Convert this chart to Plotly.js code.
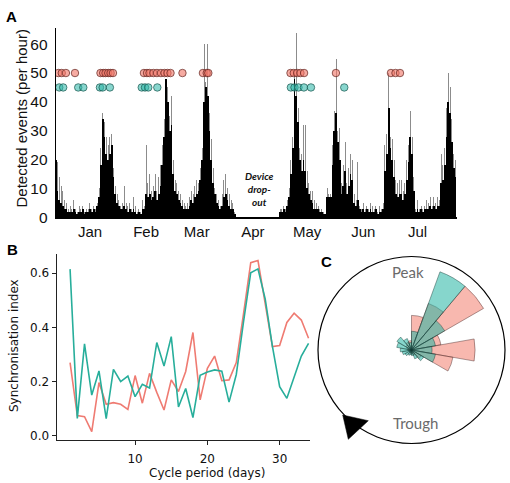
<!DOCTYPE html>
<html>
<head>
<meta charset="utf-8">
<script src="https://cdn.plot.ly/plotly-3.0.1.min.js"></script>
<style>html,body{margin:0;padding:0;background:#fff}#chart{width:510px;height:483px}</style>
</head>
<body>
<div id="chart"></div>
<script>
// ---------- Panel A: detected events per hour (daily summary), first day 2018-12-13 ----------
const recordStart = '2018-12-13';
const peakEvents = [
  21,19,14,11,9,6,5,3,4,3,
  6,3,2,4,3,4,2,3,3,5,
  3,4,3,5,10,24,36,33,28,25,
  28,29,17,11,8,6,4,5,11,5,
  4,5,3,7,4,2,3,2,6,4,
  25,12,15,9,11,15,9,14,18,25,
  34,59,45,35,42,20,13,12,9,8,
  6,5,4,5,7,9,8,11,13,12,
  17,24,60,47,60,36,27,17,10,8,
  6,4,8,13,15,10,8,6,5,2,
  null,null,null,null,null,null,null,null,null,null,null,null,
  null,null,null,null,null,null,null,null,null,null,null,null,
  3,3,4,3,6,10,20,28,50,64,
  38,24,22,32,32,16,12,9,9,6,
  5,4,3,3,2,1,10,8,8,25,
  37,55,30,31,12,18,26,12,17,22,
  20,8,6,19,4,3,5,3,4,3,
  5,4,3,4,2,4,3,5,25,29,
  50,28,27,20,13,12,13,13,9,12,
  20,25,37,28,14,3,6,3,4,3,
  4,6,5,7,4,7,5,7,6,22,
  18,24,38,50,45,34,22,20
];
const typicalEvents = [
  20,9,6,5,4,3,3,2,2,2,
  3,2,1,2,2,3,1,2,2,3,
  2,3,2,4,7,18,34,28,22,20,
  22,25,14,8,5,4,3,3,4,3,
  2,3,2,3,2,1,2,1,3,3,
  8,7,8,6,7,9,6,8,11,18,
  28,48,40,30,32,15,9,8,6,5,
  4,3,3,3,4,6,5,7,8,9,
  13,20,40,45,42,30,20,12,8,5,
  4,3,4,7,8,6,4,3,3,1,
  null,null,null,null,null,null,null,null,null,null,null,null,
  null,null,null,null,null,null,null,null,null,null,null,null,
  2,2,3,2,4,7,15,24,48,42,
  33,20,16,20,16,10,8,6,5,3,
  3,3,2,2,1,1,7,7,7,18,
  30,36,26,20,8,11,16,8,11,15,
  13,5,4,6,3,2,3,2,3,2,
  3,2,2,3,1,2,2,3,16,22,
  38,24,20,14,8,7,8,8,6,8,
  13,19,28,22,9,2,3,2,3,2,
  3,3,3,4,3,4,3,4,4,12,
  13,18,28,40,36,26,17,14
];
// event markers: days after 1 Jan 2019
const redEventDays = [-17.5,-15.6,-13.3,-8.3,5.8,7.3,8.6,10.1,11.4,12.7,29.8,31.5,32.9,35,37,39.2,41.2,42.8,44.5,51.1,62.4,64.5,65.4,110.8,112.6,114.5,116.3,118.3,135.9,166.3,168.8,171.3];
const tealEventDays = [-17,-14.8,-6.5,-3.7,5.5,7,11,28.6,30.4,32.2,37.2,111,113,115.2,118.2,122.1,140.5];
const redEventLevel = 50;
const tealEventLevel = 45;
const monthTicks = ['2019-01-01','2019-02-01','2019-03-01','2019-04-01','2019-05-01','2019-06-01','2019-07-01'];
const monthLabels = ['Jan','Feb','Mar','Apr','May','Jun','Jul'];

// ---------- Panel B: synchronisation index ----------
const cyclePeriod = [1,2,3,4,5,6,7,8,9,10,11,12,13,14,15,16,17,18,19,20,21,22,23,24,25,26,27,28,29,30,31,32,33,34];
const syncTeal = [0.615,0.064,0.339,0.15,0.239,0.063,0.245,0.2,0.22,0.144,0.19,0.176,0.344,0.257,0.366,0.106,0.174,0.067,0.223,0.235,0.243,0.238,0.124,0.226,0.42,0.602,0.616,0.505,0.33,0.181,0.138,0.212,0.294,0.341];
const syncRed = [0.27,0.074,0.07,0.015,0.196,0.116,0.122,0.116,0.097,0.222,0.12,0.23,0.16,0.095,0.206,0.163,0.237,0.381,0.132,0.249,0.294,0.203,0.206,0.27,0.45,0.639,0.647,0.49,0.329,0.333,0.418,0.452,0.427,0.36];

// ---------- Panel C: phase rose ----------
const phaseBins = [10,30,50,70,90,110,130,150,170,190,210,230,250,270,290,310,330,350];
const roseRed = [0.37,0.53,0.89,0.32,0.68,0.45,0.12,0.06,0.04,0.03,0.03,0.03,0.03,0.04,0.05,0.07,0.09,0.1];
const roseTeal = [0.2,0.89,0.41,0.26,0.22,0.26,0.15,0.1,0.06,0.05,0.06,0.08,0.1,0.12,0.16,0.18,0.13,0.08];

// ---------- helpers ----------
const W = 510, H = 483;
const px = x => x / W;
const py = y => 1 - y / H;
function fmt(ms){ return new Date(ms).toISOString().slice(0,19).replace('T',' '); }
const DAY = 86400000;
const startMs = Date.parse(recordStart + 'T00:00:00Z');
const jan1 = Date.UTC(2019,0,1);
const dayDates = peakEvents.map((_, i) => fmt(startMs + i * DAY));
const redDates = redEventDays.map(d => fmt(jan1 + d * DAY));
const tealDates = tealEventDays.map(d => fmt(jan1 + d * DAY));

const RED = '#ef7b72', TEAL = '#27ae9b';
const fA = 'Liberation Sans, Arial, sans-serif';
const fB = 'DejaVu Sans, sans-serif';

const traces = [
  {type:'bar', x:dayDates, y:peakEvents, xaxis:'x', yaxis:'y', width:0.55*DAY,
   marker:{color:'#8c8c8c', line:{width:0}}, hoverinfo:'skip', showlegend:false},
  {type:'bar', x:dayDates, y:typicalEvents, xaxis:'x', yaxis:'y', width:1.0*DAY,
   marker:{color:'#000000', line:{width:0}}, hoverinfo:'skip', showlegend:false},
  {type:'scatter', mode:'markers', x:redDates, y:redDates.map(()=>redEventLevel), xaxis:'x', yaxis:'y',
   marker:{size:7.5, color:'rgba(240,120,105,0.62)', line:{color:'rgba(90,30,25,0.85)', width:0.8}}, showlegend:false},
  {type:'scatter', mode:'markers', x:tealDates, y:tealDates.map(()=>tealEventLevel), xaxis:'x', yaxis:'y',
   marker:{size:7.5, color:'rgba(50,185,170,0.58)', line:{color:'rgba(20,80,72,0.85)', width:0.8}}, showlegend:false},
  {type:'scatter', mode:'lines', x:cyclePeriod, y:syncRed, xaxis:'x2', yaxis:'y2',
   line:{color:RED, width:1.6}, showlegend:false},
  {type:'scatter', mode:'lines', x:cyclePeriod, y:syncTeal, xaxis:'x2', yaxis:'y2',
   line:{color:TEAL, width:1.6}, showlegend:false},
  {type:'barpolar', r:roseRed, theta:phaseBins, subplot:'polar',
   marker:{color:'rgba(242,125,110,0.55)', line:{color:'rgba(60,30,30,0.7)', width:0.6}}, showlegend:false},
  {type:'barpolar', r:roseTeal, theta:phaseBins, subplot:'polar',
   marker:{color:'rgba(35,180,162,0.55)', line:{color:'rgba(20,50,45,0.7)', width:0.6}}, showlegend:false}
];

function note(text, x, y, font, extra){
  return Object.assign({text, x:px(x), y:py(y), xref:'paper', yref:'paper', showarrow:false,
    xanchor:'center', yanchor:'middle', font}, extra || {});
}

const layout = {
  width:W, height:H, margin:{l:0,r:0,t:0,b:0},
  paper_bgcolor:'#fff', plot_bgcolor:'rgba(0,0,0,0)',
  barmode:'overlay', bargap:0,
  xaxis:{type:'date', domain:[px(56), px(457)], anchor:'y',
    range:['2018-12-13 05:17', '2019-07-22 19:12'],
    tickvals:monthTicks, ticktext:monthLabels, ticks:'', showgrid:false, zeroline:false,
    showline:true, linecolor:'#000', linewidth:1.3,
    tickfont:{family:fA, size:15, color:'#111'}},
  yaxis:{domain:[py(217.3), py(28.3)], anchor:'x', range:[0, 65.5],
    tickvals:[0,10,20,30,40,50,60], ticks:'', showgrid:false, zeroline:false,
    showline:true, linecolor:'#000', linewidth:1.3, ticklabelstandoff:4,
    tickfont:{family:fA, size:15.5, color:'#111'}},
  xaxis2:{domain:[px(56.7), px(310)], anchor:'y2', range:[-0.85, 34.2],
    tickvals:[10,20,30], ticks:'outside', ticklen:4, tickwidth:1.1, tickcolor:'#222', ticklabelstandoff:3,
    showgrid:false, zeroline:false, showline:true, linecolor:'#222', linewidth:1.1,
    tickfont:{family:fB, size:12, color:'#111'}},
  yaxis2:{domain:[py(440), py(254)], anchor:'x2', range:[-0.016, 0.671],
    tickvals:[0,0.2,0.4,0.6], tickformat:'.1f', ticks:'outside', ticklen:4, tickwidth:1.1, tickcolor:'#222',
    showgrid:false, zeroline:false, showline:true, linecolor:'#222', linewidth:1.1,
    tickfont:{family:fB, size:12, color:'#111'}},
  polar:{domain:{x:[px(318), px(505)], y:[py(443.5), py(256.5)]}, bgcolor:'rgba(0,0,0,0)', bargap:0, barmode:'overlay',
    angularaxis:{rotation:90, direction:'clockwise', showticklabels:false, ticks:'', showgrid:false,
      showline:true, linecolor:'#000', linewidth:1.2},
    radialaxis:{visible:false, range:[0,1]}},
  shapes:[
    {type:'path', xref:'paper', yref:'paper',
     path:`M ${px(342.7)} ${py(415)} L ${px(368.3)} ${py(420.7)} L ${px(348.3)} ${py(439.3)} Z`,
     fillcolor:'#000', line:{color:'#000', width:0.5}}
  ],
  annotations:[
    note('<b>A</b>', 11, 16.5, {family:fA, size:15, color:'#000'}),
    note('<b>B</b>', 12.5, 249, {family:fA, size:15, color:'#000'}),
    note('<b>C</b>', 326.7, 261.7, {family:fA, size:15, color:'#000'}),
    note('Detected events (per hour)', 21.5, 119, {family:fA, size:15, color:'#111'}, {textangle:-90}),
    note('Synchronisation index', 14, 346, {family:fB, size:12, color:'#111'}, {textangle:-90}),
    note('Cycle period (days)', 206.7, 473.3, {family:fB, size:12, color:'#111'}),
    note('<b><i>Device<br>drop-<br>out</i></b>', 259.5, 189, {family:'Lato, sans-serif', size:10, color:'#111'}, {align:'center'}),
    note('Peak', 408, 272, {family:'Lato, sans-serif', size:15, color:'#6a6a6a'}),
    note('Trough', 415, 423, {family:'Lato, sans-serif', size:15, color:'#6a6a6a'})
  ]
};

Plotly.newPlot('chart', traces, layout, {staticPlot:true, displayModeBar:false});
</script>
</body>
</html>
